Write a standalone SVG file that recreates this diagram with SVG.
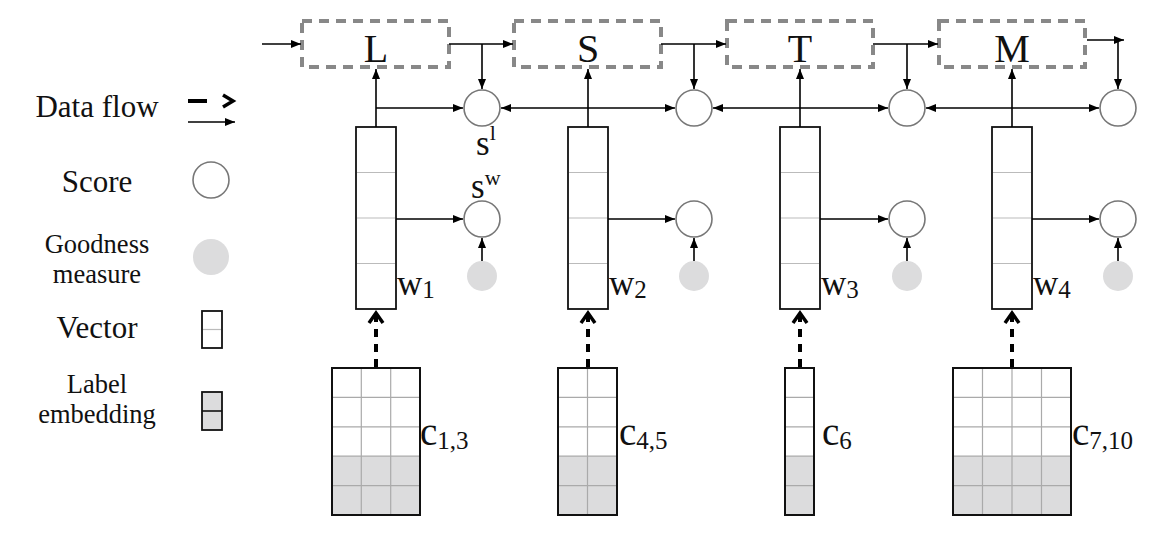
<svg xmlns="http://www.w3.org/2000/svg" width="1162" height="550" viewBox="0 0 1162 550">
<style>
text{font-family:"Liberation Serif","Times New Roman",serif;fill:#111}
.leg{font-size:31px;text-anchor:middle}
.leg2{font-size:26.5px;text-anchor:middle}
.big{font-size:40px;text-anchor:middle}
.lab{font-size:35px}
.sub{font-size:25px}
.sup{font-size:22px}
.box{fill:none;stroke:#888;stroke-width:4;stroke-dasharray:10 7}
.sc{fill:#fff;stroke:#777;stroke-width:1.6}
.gm{fill:#dcdcdd;stroke:none}
.vec{fill:#fff;stroke:#111;stroke-width:1.8}
.row{stroke:#bbb;stroke-width:1.2}
.grid{stroke:#aaa;stroke-width:1.2;fill:none}
.mat{fill:none;stroke:#111;stroke-width:2}
.gray{fill:#dcdcdd;stroke:none}
.ln{fill:none;stroke:#000;stroke-width:1.6}
.dash{fill:none;stroke:#000;stroke-width:4;stroke-dasharray:8 7}
.chev{fill:none;stroke:#000;stroke-width:3.5;stroke-linejoin:miter}
</style>
<defs>
<marker id="ah" viewBox="0 0 10 8" refX="10" refY="4" markerWidth="10" markerHeight="8" markerUnits="userSpaceOnUse" orient="auto-start-reverse">
<path d="M0,0 L10,4 L0,8 Z" fill="#000"/>
</marker>
</defs>

<!-- Legend -->
<g id="legend">
<text class="leg" x="97" y="117">Data flow</text>
<line x1="188" y1="101" x2="207" y2="101" stroke="#000" stroke-width="4"/>
<path class="chev" d="M223,95 L233,101 L223,107" stroke-width="4.5"/>
<line class="ln" x1="188" y1="122" x2="235" y2="122" marker-end="url(#ah)"/>
<text class="leg" x="97" y="192">Score</text>
<circle class="sc" cx="211" cy="180" r="18"/>
<text class="leg2" x="97" y="253">Goodness<tspan x="97" dy="30">measure</tspan></text>
<circle class="gm" cx="211" cy="257" r="18"/>
<text class="leg" x="97" y="338">Vector</text>
<rect class="vec" x="202" y="311" width="20" height="37"/>
<line class="row" x1="203" y1="329.5" x2="221" y2="329.5"/>
<text class="leg2" x="97" y="393">Label<tspan x="97" dy="30">embedding</tspan></text>
<rect x="202" y="392" width="20" height="38" fill="#dcdcdd" stroke="#111" stroke-width="1.8"/>
<line x1="202" y1="411" x2="222" y2="411" stroke="#111" stroke-width="1.6"/>
</g>

<!-- Label boxes -->
<g id="box-L"><rect class="box" x="302" y="21" width="147" height="46"/><text class="big" x="376" y="62">L</text></g>
<g id="box-S"><rect class="box" x="514" y="21" width="147" height="46"/><text class="big" x="588" y="62">S</text></g>
<g id="box-T"><rect class="box" x="727" y="21" width="146" height="46"/><text class="big" x="800" y="62">T</text></g>
<g id="box-M"><rect class="box" x="939" y="21" width="146" height="46"/><text class="big" x="1012" y="62">M</text></g>

<!-- Score circles s^l -->
<g id="sl1"><circle class="sc" cx="482" cy="108" r="18"/><text class="lab" x="476" y="155">s<tspan class="sup" dy="-15">l</tspan></text></g>
<g id="sl2"><circle class="sc" cx="694" cy="108" r="18"/></g>
<g id="sl3"><circle class="sc" cx="907" cy="108" r="18"/></g>
<g id="sl4"><circle class="sc" cx="1118" cy="108" r="18"/></g>

<!-- Score circles s^w -->
<g id="sw1"><circle class="sc" cx="482" cy="219" r="18"/><text class="lab" x="471" y="198">s<tspan class="sup" dy="-13">w</tspan></text></g>
<g id="sw2"><circle class="sc" cx="694" cy="219" r="18"/></g>
<g id="sw3"><circle class="sc" cx="907" cy="219" r="18"/></g>
<g id="sw4"><circle class="sc" cx="1118" cy="219" r="18"/></g>

<!-- Goodness measures -->
<g id="g1"><circle class="gm" cx="482" cy="276" r="15"/></g>
<g id="g2"><circle class="gm" cx="694" cy="276" r="15"/></g>
<g id="g3"><circle class="gm" cx="907" cy="276" r="15"/></g>
<g id="g4"><circle class="gm" cx="1118" cy="276" r="15"/></g>

<!-- Vectors -->
<g id="w1"><rect class="vec" x="356" y="127" width="40" height="182"/>
<line class="row" x1="357" y1="172.5" x2="395" y2="172.5"/><line class="row" x1="357" y1="218" x2="395" y2="218"/><line class="row" x1="357" y1="263.5" x2="395" y2="263.5"/>
<text class="lab" x="397" y="295">w<tspan class="sub" dy="3">1</tspan></text></g>
<g id="w2"><rect class="vec" x="568" y="127" width="40" height="182"/>
<line class="row" x1="569" y1="172.5" x2="607" y2="172.5"/><line class="row" x1="569" y1="218" x2="607" y2="218"/><line class="row" x1="569" y1="263.5" x2="607" y2="263.5"/>
<text class="lab" x="609" y="295">w<tspan class="sub" dy="3">2</tspan></text></g>
<g id="w3"><rect class="vec" x="780" y="127" width="40" height="182"/>
<line class="row" x1="781" y1="172.5" x2="819" y2="172.5"/><line class="row" x1="781" y1="218" x2="819" y2="218"/><line class="row" x1="781" y1="263.5" x2="819" y2="263.5"/>
<text class="lab" x="821" y="295">w<tspan class="sub" dy="3">3</tspan></text></g>
<g id="w4"><rect class="vec" x="992" y="127" width="40" height="182"/>
<line class="row" x1="993" y1="172.5" x2="1031" y2="172.5"/><line class="row" x1="993" y1="218" x2="1031" y2="218"/><line class="row" x1="993" y1="263.5" x2="1031" y2="263.5"/>
<text class="lab" x="1033" y="295">w<tspan class="sub" dy="3">4</tspan></text></g>

<!-- Character matrices -->
<g id="c13">
<rect class="gray" x="332" y="456.2" width="88" height="58.8"/>
<path class="grid" d="M361.3,368V515M390.7,368V515M332,397.4H420M332,426.8H420M332,456.2H420M332,485.6H420"/>
<rect class="mat" x="332" y="368" width="88" height="147"/>
<text class="lab" x="420" y="445" style="font-size:39px">c<tspan class="sub" dy="4">1,3</tspan></text>
</g>
<g id="c45">
<rect class="gray" x="558" y="456.2" width="59" height="58.8"/>
<path class="grid" d="M587.5,368V515M558,397.4H617M558,426.8H617M558,456.2H617M558,485.6H617"/>
<rect class="mat" x="558" y="368" width="59" height="147"/>
<text class="lab" x="619" y="445" style="font-size:39px">c<tspan class="sub" dy="4">4,5</tspan></text>
</g>
<g id="c6">
<rect class="gray" x="785" y="456.2" width="29" height="58.8"/>
<path class="grid" d="M785,397.4H814M785,426.8H814M785,456.2H814M785,485.6H814"/>
<rect class="mat" x="785" y="368" width="29" height="147"/>
<text class="lab" x="822" y="445" style="font-size:39px">c<tspan class="sub" dy="4">6</tspan></text>
</g>
<g id="c710">
<rect class="gray" x="953" y="456.2" width="118" height="58.8"/>
<path class="grid" d="M982.5,368V515M1012,368V515M1041.5,368V515M953,397.4H1071M953,426.8H1071M953,456.2H1071M953,485.6H1071"/>
<rect class="mat" x="953" y="368" width="118" height="147"/>
<text class="lab" x="1072" y="445" style="font-size:39px">c<tspan class="sub" dy="4">7,10</tspan></text>
</g>

<!-- Connectors -->
<g id="connectors">
<line class="ln" x1="262" y1="44" x2="301" y2="44" marker-end="url(#ah)"/>
<line class="ln" x1="449" y1="44" x2="513" y2="44" marker-end="url(#ah)"/>
<line class="ln" x1="661" y1="44" x2="726" y2="44" marker-end="url(#ah)"/>
<line class="ln" x1="873" y1="44" x2="938" y2="44" marker-end="url(#ah)"/>
<line class="ln" x1="1087" y1="40" x2="1124" y2="40" marker-end="url(#ah)"/>
<line class="ln" x1="482" y1="44" x2="482" y2="89" marker-end="url(#ah)"/>
<line class="ln" x1="694" y1="44" x2="694" y2="89" marker-end="url(#ah)"/>
<line class="ln" x1="907" y1="44" x2="907" y2="89" marker-end="url(#ah)"/>
<line class="ln" x1="1118" y1="40" x2="1118" y2="89" marker-end="url(#ah)"/>
<line class="ln" x1="376" y1="127" x2="376" y2="69" marker-end="url(#ah)"/>
<line class="ln" x1="588" y1="127" x2="588" y2="69" marker-end="url(#ah)"/>
<line class="ln" x1="800" y1="127" x2="800" y2="69" marker-end="url(#ah)"/>
<line class="ln" x1="1012" y1="127" x2="1012" y2="69" marker-end="url(#ah)"/>
<line class="ln" x1="376" y1="108" x2="463" y2="108" marker-end="url(#ah)"/>
<line class="ln" x1="501" y1="108" x2="675" y2="108" marker-start="url(#ah)" marker-end="url(#ah)"/>
<line class="ln" x1="713" y1="108" x2="888" y2="108" marker-start="url(#ah)" marker-end="url(#ah)"/>
<line class="ln" x1="926" y1="108" x2="1099" y2="108" marker-start="url(#ah)" marker-end="url(#ah)"/>
<line class="ln" x1="396" y1="219" x2="463" y2="219" marker-end="url(#ah)"/>
<line class="ln" x1="608" y1="219" x2="675" y2="219" marker-end="url(#ah)"/>
<line class="ln" x1="820" y1="219" x2="888" y2="219" marker-end="url(#ah)"/>
<line class="ln" x1="1032" y1="219" x2="1099" y2="219" marker-end="url(#ah)"/>
<line class="ln" x1="482" y1="261" x2="482" y2="238" marker-end="url(#ah)"/>
<line class="ln" x1="694" y1="261" x2="694" y2="238" marker-end="url(#ah)"/>
<line class="ln" x1="907" y1="261" x2="907" y2="238" marker-end="url(#ah)"/>
<line class="ln" x1="1118" y1="261" x2="1118" y2="238" marker-end="url(#ah)"/>
<line class="dash" x1="376" y1="367" x2="376" y2="316"/>
<path class="chev" d="M369,323 L376,313 L383,323"/>
<line class="dash" x1="588" y1="367" x2="588" y2="316"/>
<path class="chev" d="M581,323 L588,313 L595,323"/>
<line class="dash" x1="800" y1="367" x2="800" y2="316"/>
<path class="chev" d="M793,323 L800,313 L807,323"/>
<line class="dash" x1="1012" y1="367" x2="1012" y2="316"/>
<path class="chev" d="M1005,323 L1012,313 L1019,323"/>
</g>
</svg>
